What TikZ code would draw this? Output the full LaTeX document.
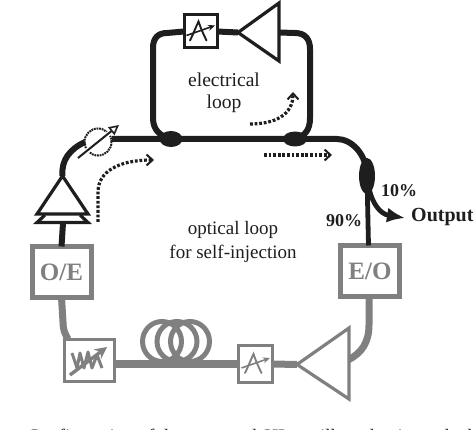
\documentclass[tikz,border=0pt]{standalone}
\usepackage{fontspec}
\setmainfont{Liberation Serif}
\usepackage{xcolor}
\usetikzlibrary{arrows.meta, shapes.geometric, positioning, calc}
\definecolor{fibreblack}{HTML}{1E1E1E}
\definecolor{wiregray}{HTML}{808080}
\begin{document}
\begin{tikzpicture}[
    x=1pt, y=-1pt,
    >=Stealth,
    fibre/.style={line width=6pt, color=fibreblack},
    wire/.style={line width=7pt, color=wiregray},
    convbox/.style={draw=wiregray, line width=5pt, fill=white, text=wiregray, inner sep=0pt, outer sep=0pt,
        minimum width=59pt, minimum height=51pt, font=\fontsize{25}{27}\selectfont\bfseries},
    attbox/.style={line width=3pt, fill=white, inner sep=0pt, outer sep=0pt},
    coupler/.style={ellipse, fill=fibreblack, inner sep=0pt, outer sep=0pt},
    amptri/.style={line width=3.2pt, line join=miter, fill=white},
    probe/.style={line width=3.2pt, color=fibreblack, dash pattern=on 2.8pt off 1.8pt,
        -{Straight Barb[length=6pt, width=11pt, line width=2pt]}},
    looptext/.style={font=\fontsize{19}{21}\selectfont, text=fibreblack},
    boldtext/.style={font=\fontsize{18}{20}\selectfont\bfseries, text=fibreblack},
    varatt/.pic={
        \draw[line width=1.9pt, line cap=round] (-10.5,9) .. controls (-7,2) and (-4,-6) .. (-2,-10) .. controls (0,-4) and (3,3) .. (6,9);
        \draw[line width=1.6pt, -{Stealth[length=7pt, width=6pt]}] (-14,4) -- (14.5,-6);
    }
]
\useasboundingbox (0,0) rectangle (474,430);
\clip (0,0) rectangle (474,430);

% === couplers and boxes ===
\node[coupler, minimum width=23pt, minimum height=16pt] (cplL) at (171,139) {};
\node[coupler, minimum width=24pt, minimum height=15pt] (cplR) at (295,139) {};
\node[coupler, minimum width=16pt, minimum height=36pt] (cplOut) at (367,176) {};

% === amplifier corners ===
\coordinate (ampTopTip) at (238,32.5);
\coordinate (ampTopUp) at (279,3);
\coordinate (ampTopDn) at (279,61);
\coordinate (ampLowTip) at (297,364.5);
\coordinate (ampLowUp) at (349,328);
\coordinate (ampLowDn) at (349,399);
\coordinate (pdTip) at (62.5,176);

% === boxes ===
\node[convbox] (oe) at (61.5,272) {O/E};
\node[convbox] (eo) at (370,271) {E/O};
\node[attbox, minimum width=33pt, minimum height=33pt] (attTop) at (200.5,31.5) {};
\node[attbox, minimum width=34pt, minimum height=36pt] (attLow) at (255.5,364) {};
\node[attbox, minimum width=50pt, minimum height=42pt] (filt) at (89.5,360.5) {};
\node[circle, draw=fibreblack, dash pattern=on 1.8pt off 0.8pt, line width=2pt, minimum size=27pt, inner sep=0pt, outer sep=0pt] (phase) at (98,142) {};

% === electrical loop ===
\draw[fibre] (cplL.center) .. controls (160,136) and (153,130) .. (153,118) -- (153,48)
    .. controls (153,38) and (158,33) .. (167,33) -- (attTop.west);
\draw[fibre] (attTop.east) -- (ampTopTip);
\draw[fibre] (ampTopUp |- ampTopTip) -- (295,33) .. controls (305,33) and (310,39) .. (310,49)
    -- (310,118) .. controls (310,130) and (305,136) .. (cplR.center);

% === optical path ===
\draw[fibre] (phase.east |- cplL.center) -- (cplL.center) -- (cplR.center) -- (337,139)
    .. controls (352,139) and (367,155) .. (cplOut.center);
\draw[line width=4.8pt, color=fibreblack] (cplOut.center) -- (eo.north -| 368.5,0);
\draw[fibre] (pdTip) .. controls (61,160) and (70,149) .. (85,142);
\draw[line width=4.8pt, color=fibreblack, -{Latex[length=18pt, width=15pt]}] (369,188)
    .. controls (372,203) and (380,214) .. (405,218);

% === phase shifter arrow ===
\coordinate (phaseIn) at (78,158);
\coordinate (phaseOut) at (119,125);
\draw[line width=5pt, color=white] (phaseIn) -- (112,131);
\draw[line width=2pt, color=fibreblack, -{Triangle[open, length=10pt, width=10pt, line width=1.6pt]}] (phaseIn) -- (phaseOut);

% === photodetector ===
\draw[color=fibreblack, line width=6pt] (63,223) -- (oe.north);
\draw[line width=3.2pt, draw=fibreblack, line join=miter, fill=white] (pdTip) -- (37,214) -- (88,214) -- cycle;
\draw[line width=3.2pt, draw=fibreblack, line join=miter] (45,215) -- (37,222.5) -- (88,222.5) -- (80,215);

% === lower (gray) path ===
\draw[wire] (oe.south) -- (63,322) .. controls (63,330) and (65,334) .. (68,339);
\draw[wire] (attLow.east) -- (ampLowTip);
\draw[wire] (eo.south -| 369,0) -- (369,325) .. controls (369,342) and (362,353) .. (348,360);

% === fibre coil ===
\foreach \cx/\rx in {162/19.5, 177/20, 190/19.5}
    \draw[color=wiregray, line width=5pt] (\cx,341.5) ellipse [x radius=\rx, y radius=20];
\draw[wire] (filt.east |- attLow.west) -- (attLow.west);

% === amplifiers ===
\draw[amptri, draw=fibreblack] (ampTopTip) -- (ampTopUp) -- (ampTopDn) -- cycle;
\draw[amptri, draw=wiregray] (ampLowTip) -- (ampLowUp) -- (ampLowDn) -- cycle;

% === attenuator boxes ===
\draw[attbox, draw=fibreblack] (attTop.south west) rectangle (attTop.north east);
\draw[attbox, draw=wiregray] (attLow.south west) rectangle (attLow.north east);
\draw[attbox, draw=wiregray] (filt.south west) rectangle (filt.north east);
\pic[color=fibreblack] at (attTop.center) {varatt};
\pic[color=wiregray] at (attLow.center) {varatt};
\draw[color=wiregray, line width=3pt, line join=round] (72,353) -- (77,368) -- (80,353) -- (84,368) -- (88,352) -- (92,368) -- (97,355) -- (102,368);
\draw[color=wiregray, line width=3.4pt, -{Stealth[length=12pt, width=12pt]}] (70,375) -- (107,347);

% === signal direction ===
\draw[probe] (98,222) -- (98,192) .. controls (98,172) and (118,160) .. (154,160);
\draw[probe] (250,124) .. controls (275,124) and (293,115) .. (293,92);
\draw[probe] (264,155) -- (332,155);

% === labels ===
\node[looptext, font=\fontsize{19.6}{21}\selectfont] (lblElecA) at (224,80) {electrical};
\node[looptext, font=\fontsize{19.6}{21}\selectfont] (lblElecB) at (224,104) {loop};
\node[looptext] (lblOptA) at (233,230) {optical loop};
\node[looptext] (lblOptB) at (233,254) {for self-injection};
\node[boldtext] (lblTen) at (399,191) {10\%};
\node[boldtext] (lblNinety) at (344,221) {90\%};
\node[boldtext, font=\fontsize{20}{22}\selectfont\bfseries, anchor=west, inner sep=0pt] (lblOut) at (411,217) {Output};
\node[font=\fontsize{19}{21}\selectfont, anchor=base west, inner sep=0pt, text=fibreblack] (lblCaption) at (27,442)
    {Configuration of the proposed SIL oscillator having a dual};
\end{tikzpicture}
\end{document}
